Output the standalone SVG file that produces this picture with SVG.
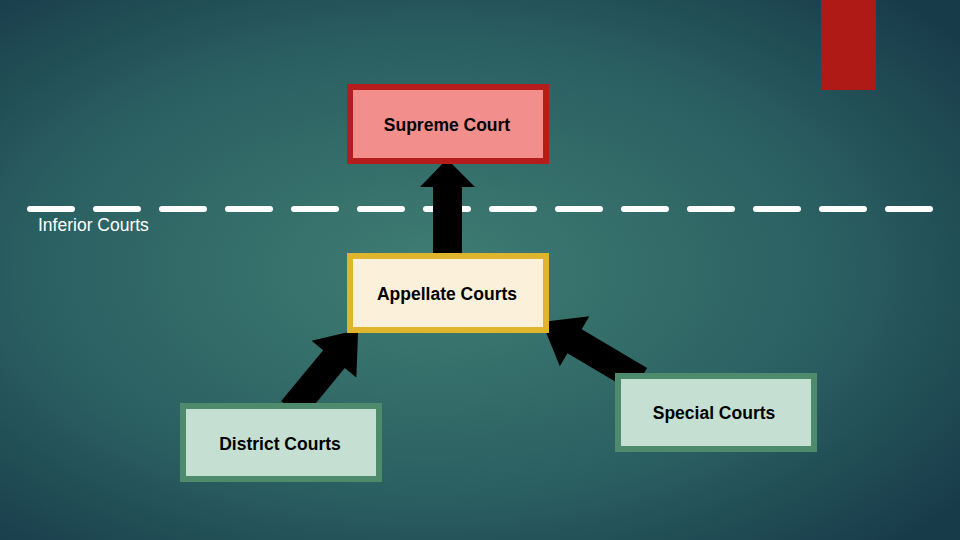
<svg xmlns="http://www.w3.org/2000/svg" width="960" height="540" viewBox="0 0 960 540">
<defs>
<radialGradient id="bg" cx="0.45" cy="0.5" r="0.7">
<stop offset="0" stop-color="#3f7d73"/>
<stop offset="0.6" stop-color="#2a5f61"/>
<stop offset="1" stop-color="#183b4a"/>
</radialGradient>
<style>
.box{stroke-width:6}
.t{font-family:"Liberation Sans",Arial,sans-serif;font-size:17.5px;font-weight:bold;fill:#000;text-anchor:middle}
.arrow{fill:#000}
</style>
</defs>
<rect width="960" height="540" fill="url(#bg)"/>
<rect x="821" y="0" width="55" height="90" fill="#b01a16"/>
<line x1="30" y1="209" x2="935" y2="209" stroke="#fff" stroke-width="6" stroke-linecap="round" stroke-dasharray="42,24"/>
<text x="38" y="231" font-family="Liberation Sans,Arial,sans-serif" font-size="17.5" fill="#fff">Inferior Courts</text>
<g id="connectors">
<polygon class="arrow" points="433,256 462,256 462,187 475,187 447,159 420,187 433,187"/>
<path class="arrow" transform="translate(292,410) rotate(-50.5)" d="M0,-14 H66 V-29 L104,0 L66,29 V14 H0 Z"/>
<path class="arrow" transform="translate(640,380) rotate(210.6)" d="M0,-14 H76 V-29 L114,0 L76,29 V14 H0 Z"/>
</g>
<g id="supreme"><rect class="box" x="350" y="87" width="196" height="74" fill="#f28f8c" stroke="#b51c1c"/><text class="t" x="447" y="131">Supreme Court</text></g>
<g id="appellate"><rect class="box" x="350" y="256" width="196" height="74" fill="#fbf0da" stroke="#e0b52e"/><text class="t" x="447" y="300">Appellate Courts</text></g>
<g id="special"><rect class="box" x="618" y="376" width="196" height="73" fill="#c5e0d3" stroke="#4e8a6c"/><text class="t" x="714" y="419">Special Courts</text></g>
<g id="district"><rect class="box" x="183" y="406" width="196" height="73" fill="#c5e0d3" stroke="#4e8a6c"/><text class="t" x="280" y="450">District Courts</text></g>
</svg>
